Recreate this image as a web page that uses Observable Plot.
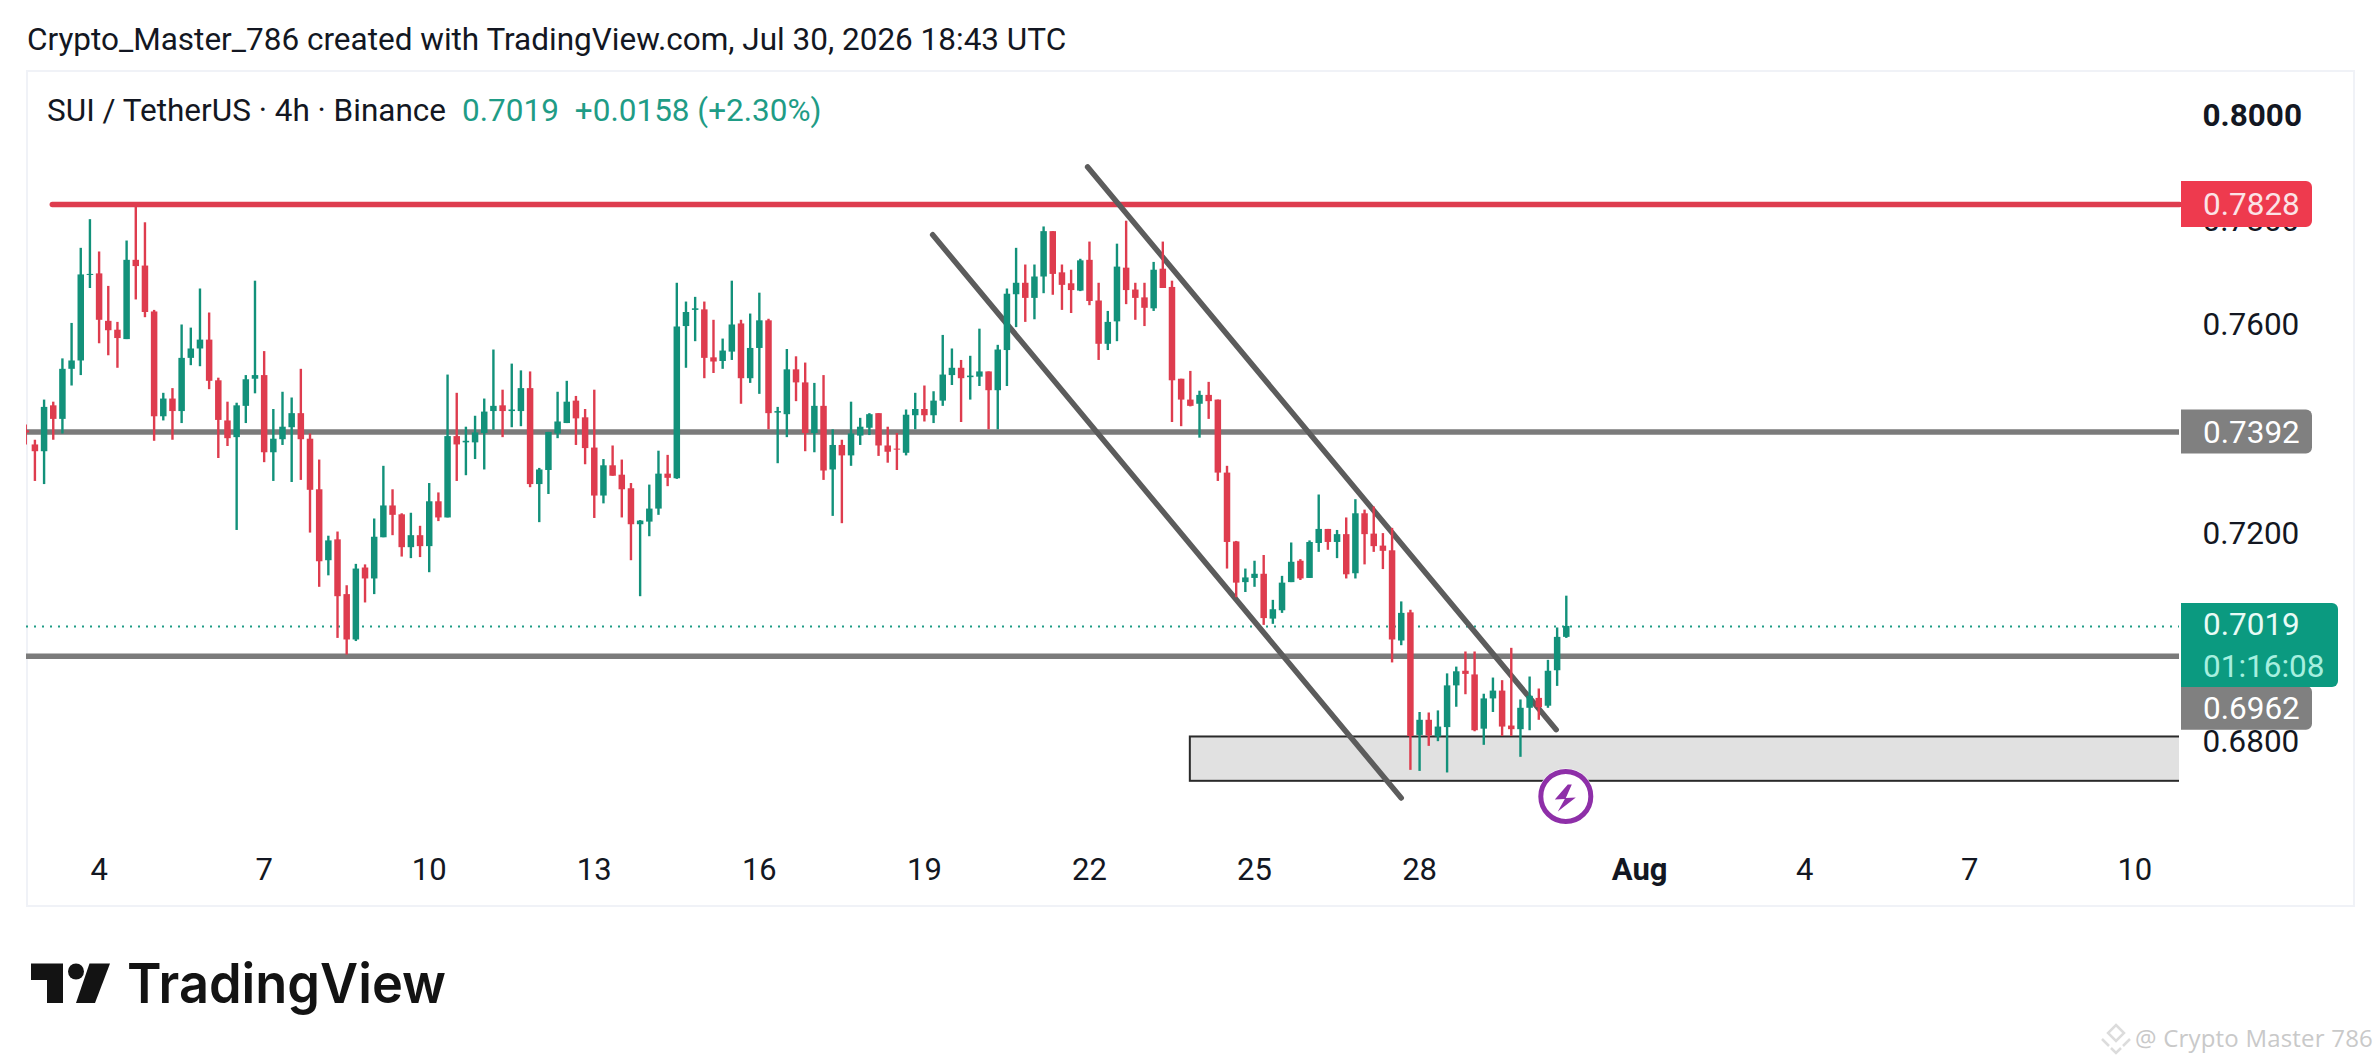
<!DOCTYPE html>
<html>
<head>
<meta charset="utf-8">
<script src="https://cdn.jsdelivr.net/npm/d3@7"></script>
<script src="https://cdn.jsdelivr.net/npm/@observablehq/plot@0.6"></script>
<style>
html,body{margin:0;padding:0;background:#fff;font-family:Roboto,sans-serif;color:#131722;}
#page{position:relative;width:2378px;height:1064px;overflow:hidden;background:#fff;}
#head{position:absolute;left:27px;top:21px;font-size:31.5px;line-height:38px;white-space:nowrap;}
#panel{position:absolute;left:26px;top:70px;width:2325px;height:833px;border:2px solid #f0f2f7;box-sizing:content-box;}
#chart{position:absolute;left:0;top:70px;}
#legend{position:absolute;left:47px;top:92px;font-size:31.5px;line-height:38px;white-space:nowrap;}
#legend .g{color:#1f9c86;}
#logo{position:absolute;left:0;top:930px;}
#mark{position:absolute;left:2090px;top:1016px;}
</style>
</head>
<body>
<div id="page">
  <div id="head">Crypto_Master_786 created with TradingView.com, Jul 30, 2026 18:43 UTC</div>
  <div id="panel"></div>
  <div id="chart"></div>
  <div id="legend">SUI / TetherUS · 4h · Binance<span class="g" style="margin-left:16px">0.7019</span><span class="g" style="margin-left:16px">+0.0158 (+2.30%)</span></div>
  <svg id="logo" width="480" height="134">
    <path fill="#131313" d="M31 33.5H63V73H47V50H31Z"/>
    <circle fill="#131313" cx="76" cy="41.5" r="8"/>
    <path fill="#131313" d="M89.5 33.5H110L95 73H76Z"/>
    <text x="127" y="73" font-family="Inter" font-weight="600" font-size="55" fill="#131313" textLength="319" lengthAdjust="spacingAndGlyphs">TradingView</text>
  </svg>
  <svg id="mark" width="288" height="44">
    <g transform="translate(26,23)" fill="none" stroke="#dcdcdc" stroke-width="2.5">
      <path d="M0-14L8-6L0 2L-8-6Z"/>
      <path d="M-14 0L-7 7M14 0L7 7M-5 9L0 14L5 9"/>
    </g>
    <text x="45" y="31" font-family="Open Sans" font-size="24" fill="#c9c9c9" letter-spacing="0.2">@ Crypto Master 786</text>
  </svg>
</div>
<script>
// 4h candles, one per bar; bar 0 is 4 Jul 00:00
const firstBar = -8;
const highs = [
.7405,.7376,.7453,.7449,.7532,.7600,.7744,.7799,
.7737,.7671,.7602,.7758,.7824,.7793,.7625,.7466,.7475,.7597,
.7591,.7666,.7620,.7495,.7449,.7447,.7500,.7681,.7546,.7435,
.7468,.7457,.7512,.7388,.7338,.7192,.7200,.7097,.7138,.7137,
.7225,.7326,.7281,.7235,.7236,.7211,.7293,.7275,.7501,.7466,
.7401,.7422,.7455,.7549,.7472,.7522,.7509,.7507,.7322,.7391,
.7468,.7489,.7460,.7435,.7472,.7339,.7365,.7338,.7293,.7222,
.7290,.7355,.7347,.7677,.7641,.7650,.7641,.7606,.7570,.7681,
.7606,.7618,.7658,.7608,.7439,.7550,.7536,.7524,.7485,.7500,
.7396,.7376,.7449,.7418,.7427,.7427,.7401,.7389,.7434,.7466,
.7480,.7469,.7577,.7551,.7529,.7537,.7589,.7507,.7558,.7666,
.7744,.7712,.7712,.7785,.7776,.7712,.7702,.7723,.7756,.7677,
.7623,.7752,.7796,.7677,.7677,.7717,.7756,.7681,.7493,.7508,
.7470,.7487,.7453,.7326,.7182,.7129,.7144,.7155,.7069,.7115,
.7179,.7147,.7183,.7271,.7205,.7203,.7227,.7262,.7242,.7248,
.7197,.7207,.7066,.7050,.6854,.6853,.6857,.6928,.6941,.6970,
.6970,.6889,.6920,.6915,.6977,.6878,.6922,.6899,.6954,.7016,
.7077];
const lows = [
.7367,.7297,.7291,.7376,.7388,.7480,.7500,.7667,
.7561,.7538,.7514,.7569,.7645,.7611,.7374,.7413,.7376,.7408,
.7519,.7517,.7473,.7341,.7364,.7203,.7408,.7465,.7333,.7297,
.7366,.7295,.7299,.7198,.7094,.7116,.6996,.6964,.6990,.7064,
.7080,.7189,.7193,.7152,.7149,.7151,.7122,.7220,.7227,.7297,
.7308,.7339,.7319,.7395,.7381,.7400,.7402,.7285,.7218,.7272,
.7379,.7408,.7366,.7329,.7226,.7254,.7307,.7227,.7145,.7076,
.7191,.7232,.7287,.7301,.7514,.7565,.7494,.7504,.7512,.7529,
.7445,.7485,.7464,.7396,.7331,.7381,.7450,.7354,.7352,.7299,
.7230,.7216,.7326,.7366,.7385,.7345,.7332,.7318,.7346,.7396,
.7411,.7408,.7441,.7481,.7410,.7453,.7479,.7396,.7396,.7479,
.7592,.7602,.7607,.7657,.7654,.7625,.7619,.7661,.7634,.7529,
.7548,.7565,.7636,.7606,.7594,.7623,.7667,.7410,.7402,.7440,
.7380,.7416,.7297,.7129,.7074,.7084,.7094,.7021,.7023,.7044,
.7103,.7107,.7111,.7161,.7165,.7149,.7110,.7110,.7137,.7161,
.7128,.6949,.6982,.6743,.6741,.6789,.6798,.6738,.6864,.6888,
.6817,.6791,.6854,.6808,.6808,.6768,.6819,.6839,.6862,.6904,
.6996];
const opens = [
.7394,.7367,.7354,.7442,.7416,.7512,.7528,.7692,
.7695,.7604,.7587,.7569,.7721,.7710,.7622,.7421,.7455,.7431,
.7533,.7551,.7568,.7490,.7413,.7381,.7441,.7493,.7500,.7352,
.7377,.7400,.7427,.7378,.7281,.7145,.7185,.7080,.6993,.7131,
.7110,.7189,.7250,.7233,.7170,.7193,.7172,.7258,.7227,.7383,
.7371,.7371,.7389,.7431,.7442,.7431,.7431,.7475,.7291,.7318,
.7388,.7408,.7451,.7419,.7361,.7269,.7327,.7309,.7283,.7214,
.7219,.7244,.7311,.7302,.7594,.7625,.7626,.7534,.7527,.7545,
.7599,.7494,.7552,.7605,.7428,.7425,.7511,.7486,.7389,.7441,
.7319,.7366,.7346,.7384,.7399,.7427,.7365,.7359,.7351,.7423,
.7435,.7423,.7451,.7500,.7514,.7496,.7497,.7507,.7471,.7548,
.7655,.7677,.7648,.7689,.7776,.7697,.7676,.7662,.7721,.7643,
.7560,.7603,.7706,.7664,.7649,.7628,.7704,.7669,.7493,.7453,
.7445,.7462,.7453,.7313,.7181,.7103,.7111,.7119,.7033,.7049,
.7103,.7144,.7111,.7178,.7205,.7180,.7195,.7120,.7235,.7196,
.7173,.7164,.6991,.7045,.6810,.6839,.6807,.6825,.6905,.6933,
.6926,.6822,.6880,.6895,.6828,.6821,.6862,.6881,.6866,.6934,
.6998];
const closes = [
.7390,.7354,.7439,.7416,.7512,.7528,.7693,.7694,
.7606,.7586,.7571,.7721,.7709,.7621,.7421,.7455,.7431,.7533,
.7551,.7568,.7489,.7414,.7379,.7442,.7492,.7500,.7352,.7378,
.7401,.7427,.7377,.7280,.7143,.7183,.7076,.6993,.7129,.7110,
.7190,.7250,.7232,.7170,.7193,.7172,.7258,.7227,.7383,.7367,
.7374,.7390,.7430,.7441,.7431,.7434,.7475,.7291,.7319,.7391,
.7411,.7449,.7417,.7360,.7269,.7327,.7307,.7281,.7214,.7221,
.7244,.7311,.7303,.7593,.7621,.7628,.7533,.7526,.7547,.7597,
.7494,.7552,.7605,.7427,.7431,.7511,.7486,.7389,.7441,.7317,
.7366,.7346,.7388,.7401,.7425,.7365,.7353,.7357,.7424,.7435,
.7423,.7451,.7501,.7514,.7494,.7499,.7507,.7471,.7549,.7656,
.7677,.7648,.7689,.7776,.7694,.7673,.7663,.7720,.7642,.7560,
.7602,.7708,.7663,.7648,.7629,.7702,.7667,.7490,.7453,.7441,
.7462,.7450,.7313,.7180,.7102,.7112,.7119,.7034,.7051,.7102,
.7142,.7110,.7180,.7205,.7180,.7195,.7118,.7235,.7195,.7172,
.7163,.6993,.7044,.6808,.6839,.6809,.6826,.6905,.6932,.6927,
.6819,.6880,.6895,.6826,.6821,.6862,.6885,.6863,.6933,.6998,
.7019];

const tickBars = [0,18,36,54,72,90,108,126,144,168,186,204,222];
const tickLabels = ["4","7","10","13","16","19","22","25","28","Aug","4","7","10"];
const boldTick = "Aug";
const priceTicks = [0.68,0.72,0.76,0.78];
const boldPrice = 0.80;

const resistance = 0.7828, midLevel = 0.7392, supportLevel = 0.6962, lastPrice = 0.7019;
const levelStartBar = -5.1, chartEndBar = 226.87;
const channelUpperBars = [107.8,158.9], channelUpperPrices = [0.7900,0.6821];
const channelLowerBars = [90.9,142.0], channelLowerPrices = [0.7770,0.6690];
const zoneBars = [119.0,240], zonePrices = [0.6722,0.6807];
const flashBar = 160, flashPrice = 0.6692;

const GREEN="#12917a", RED="#de3c4e", GREY="#7b7b7b", CHANNEL="#5c5c5c";

const candles = highs.map((h,i)=>({bar:firstBar+i,high:h,low:lows[i],open:opens[i],close:closes[i],up:closes[i]>=opens[i]}));
const up = d=>d.up, down = d=>!d.up;
const line2 = (xs,ys)=>xs.map((x,i)=>({x,y:ys[i]}));

function tag(value, lines, fill, w, h, shift){
  return (index, scales) => {
    const cy = scales.y(value)+shift, x0=2181, t=cy-h/2, b=cy+h/2, r=6;
    const g=d3.create("svg:g");
    g.append("path").attr("fill",fill)
      .attr("d",`M${x0} ${t}H${x0+w-r}a${r} ${r} 0 0 1 ${r} ${r}V${b-r}a${r} ${r} 0 0 1 ${-r} ${r}H${x0}Z`);
    lines.forEach((l,i)=>{
      g.append("text").attr("x",2203).attr("y",t+ (h/lines.length)*(i+0.5)).attr("dy","0.36em")
        .attr("text-anchor","start")
        .attr("font-size",31.5).attr("font-family","Roboto").attr("fill",l.c).text(l.t);
    });
    return g.node();
  };
}
function flash(index, scales){
  const g=d3.create("svg:g").attr("transform",`translate(${scales.x(flashBar)},${scales.y(flashPrice)})`);
  g.append("circle").attr("r",28).attr("fill","#fff");
  g.append("circle").attr("r",25).attr("fill","#fff").attr("stroke","#8e2fa8").attr("stroke-width",5);
  g.append("path").attr("fill","#8e2fa8").attr("d","M2-12L-11 3L-1 2.5L-8 15L10 1L0 1.5L6-12Z");
  return g.node();
}

const plot = Plot.plot({
  width:2378, height:836,
  marginTop:0, marginBottom:66, marginLeft:26, marginRight:199,
  style:{background:"transparent",fontFamily:"Roboto",color:"#131722",overflow:"visible"},
  x:{type:"linear",domain:[-7.917,chartEndBar],label:null},
  y:{type:"linear",domain:[0.66085,0.8085],label:null},
  marks:[
    Plot.rect([{}],{x1:()=>zoneBars[0],x2:()=>zoneBars[1],y1:()=>zonePrices[0],y2:()=>zonePrices[1],fill:"#e1e1e1",stroke:"#2a2a2a",strokeWidth:2,clip:true}),
    Plot.ruleY([lastPrice],{stroke:"#1f9c86",strokeWidth:2,strokeDasharray:"2 6",clip:true}),
    Plot.ruleY([midLevel,supportLevel],{stroke:GREY,strokeWidth:5.5,clip:true}),
    Plot.line(line2([levelStartBar,chartEndBar],[resistance,resistance]),{x:"x",y:"y",stroke:RED,strokeWidth:5.5,strokeLinecap:"round"}),
    Plot.line(line2(channelUpperBars,channelUpperPrices),{x:"x",y:"y",stroke:CHANNEL,strokeWidth:5.5,strokeLinecap:"round"}),
    Plot.line(line2(channelLowerBars,channelLowerPrices),{x:"x",y:"y",stroke:CHANNEL,strokeWidth:5.5,strokeLinecap:"round"}),
    Plot.ruleX(candles,{filter:up,x:"bar",y1:"low",y2:"high",stroke:GREEN,strokeWidth:2.4,clip:true}),
    Plot.ruleX(candles,{filter:down,x:"bar",y1:"low",y2:"high",stroke:RED,strokeWidth:2.4,clip:true}),
    Plot.ruleX(candles,{filter:up,x:"bar",y1:"open",y2:"close",stroke:GREEN,strokeWidth:6.5,clip:true}),
    Plot.ruleX(candles,{filter:down,x:"bar",y1:"open",y2:"close",stroke:RED,strokeWidth:6.5,clip:true}),
    Plot.axisY(priceTicks,{anchor:"right",tickSize:0,tickPadding:23,textAnchor:"start",fontSize:31.5,dy:1.5,label:null,tickFormat:d=>d.toFixed(4)}),
    Plot.axisY([boldPrice],{anchor:"right",tickSize:0,tickPadding:23,textAnchor:"start",fontSize:31.5,dy:1.5,fontWeight:"bold",label:null,tickFormat:d=>d.toFixed(4)}),
    Plot.axisX(tickBars.filter((b,i)=>tickLabels[i]!==boldTick),{anchor:"bottom",tickSize:0,tickPadding:17,fontSize:31,label:null,tickFormat:b=>tickLabels[tickBars.indexOf(b)]}),
    Plot.axisX(tickBars.filter((b,i)=>tickLabels[i]===boldTick),{anchor:"bottom",tickSize:0,tickPadding:17,fontSize:31,fontWeight:"bold",label:null,tickFormat:b=>tickLabels[tickBars.indexOf(b)]}),
    tag(resistance,[{t:"0.7828",c:"#fbe3e6"}],"#ee3a4e",131,46,0),
    tag(midLevel,[{t:"0.7392",c:"#ffffff"}],"#808080",131,44,0),
    tag(supportLevel,[{t:"0.6962",c:"#ffffff"}],"#808080",131,44,52),
    tag(lastPrice,[{t:"0.7019",c:"#e8fbf6"},{t:"01:16:08",c:"#a6efdf"}],"#0b9a80",157,84,19),
    flash
  ]
});
document.getElementById("chart").appendChild(plot);
</script>
</body>
</html>
